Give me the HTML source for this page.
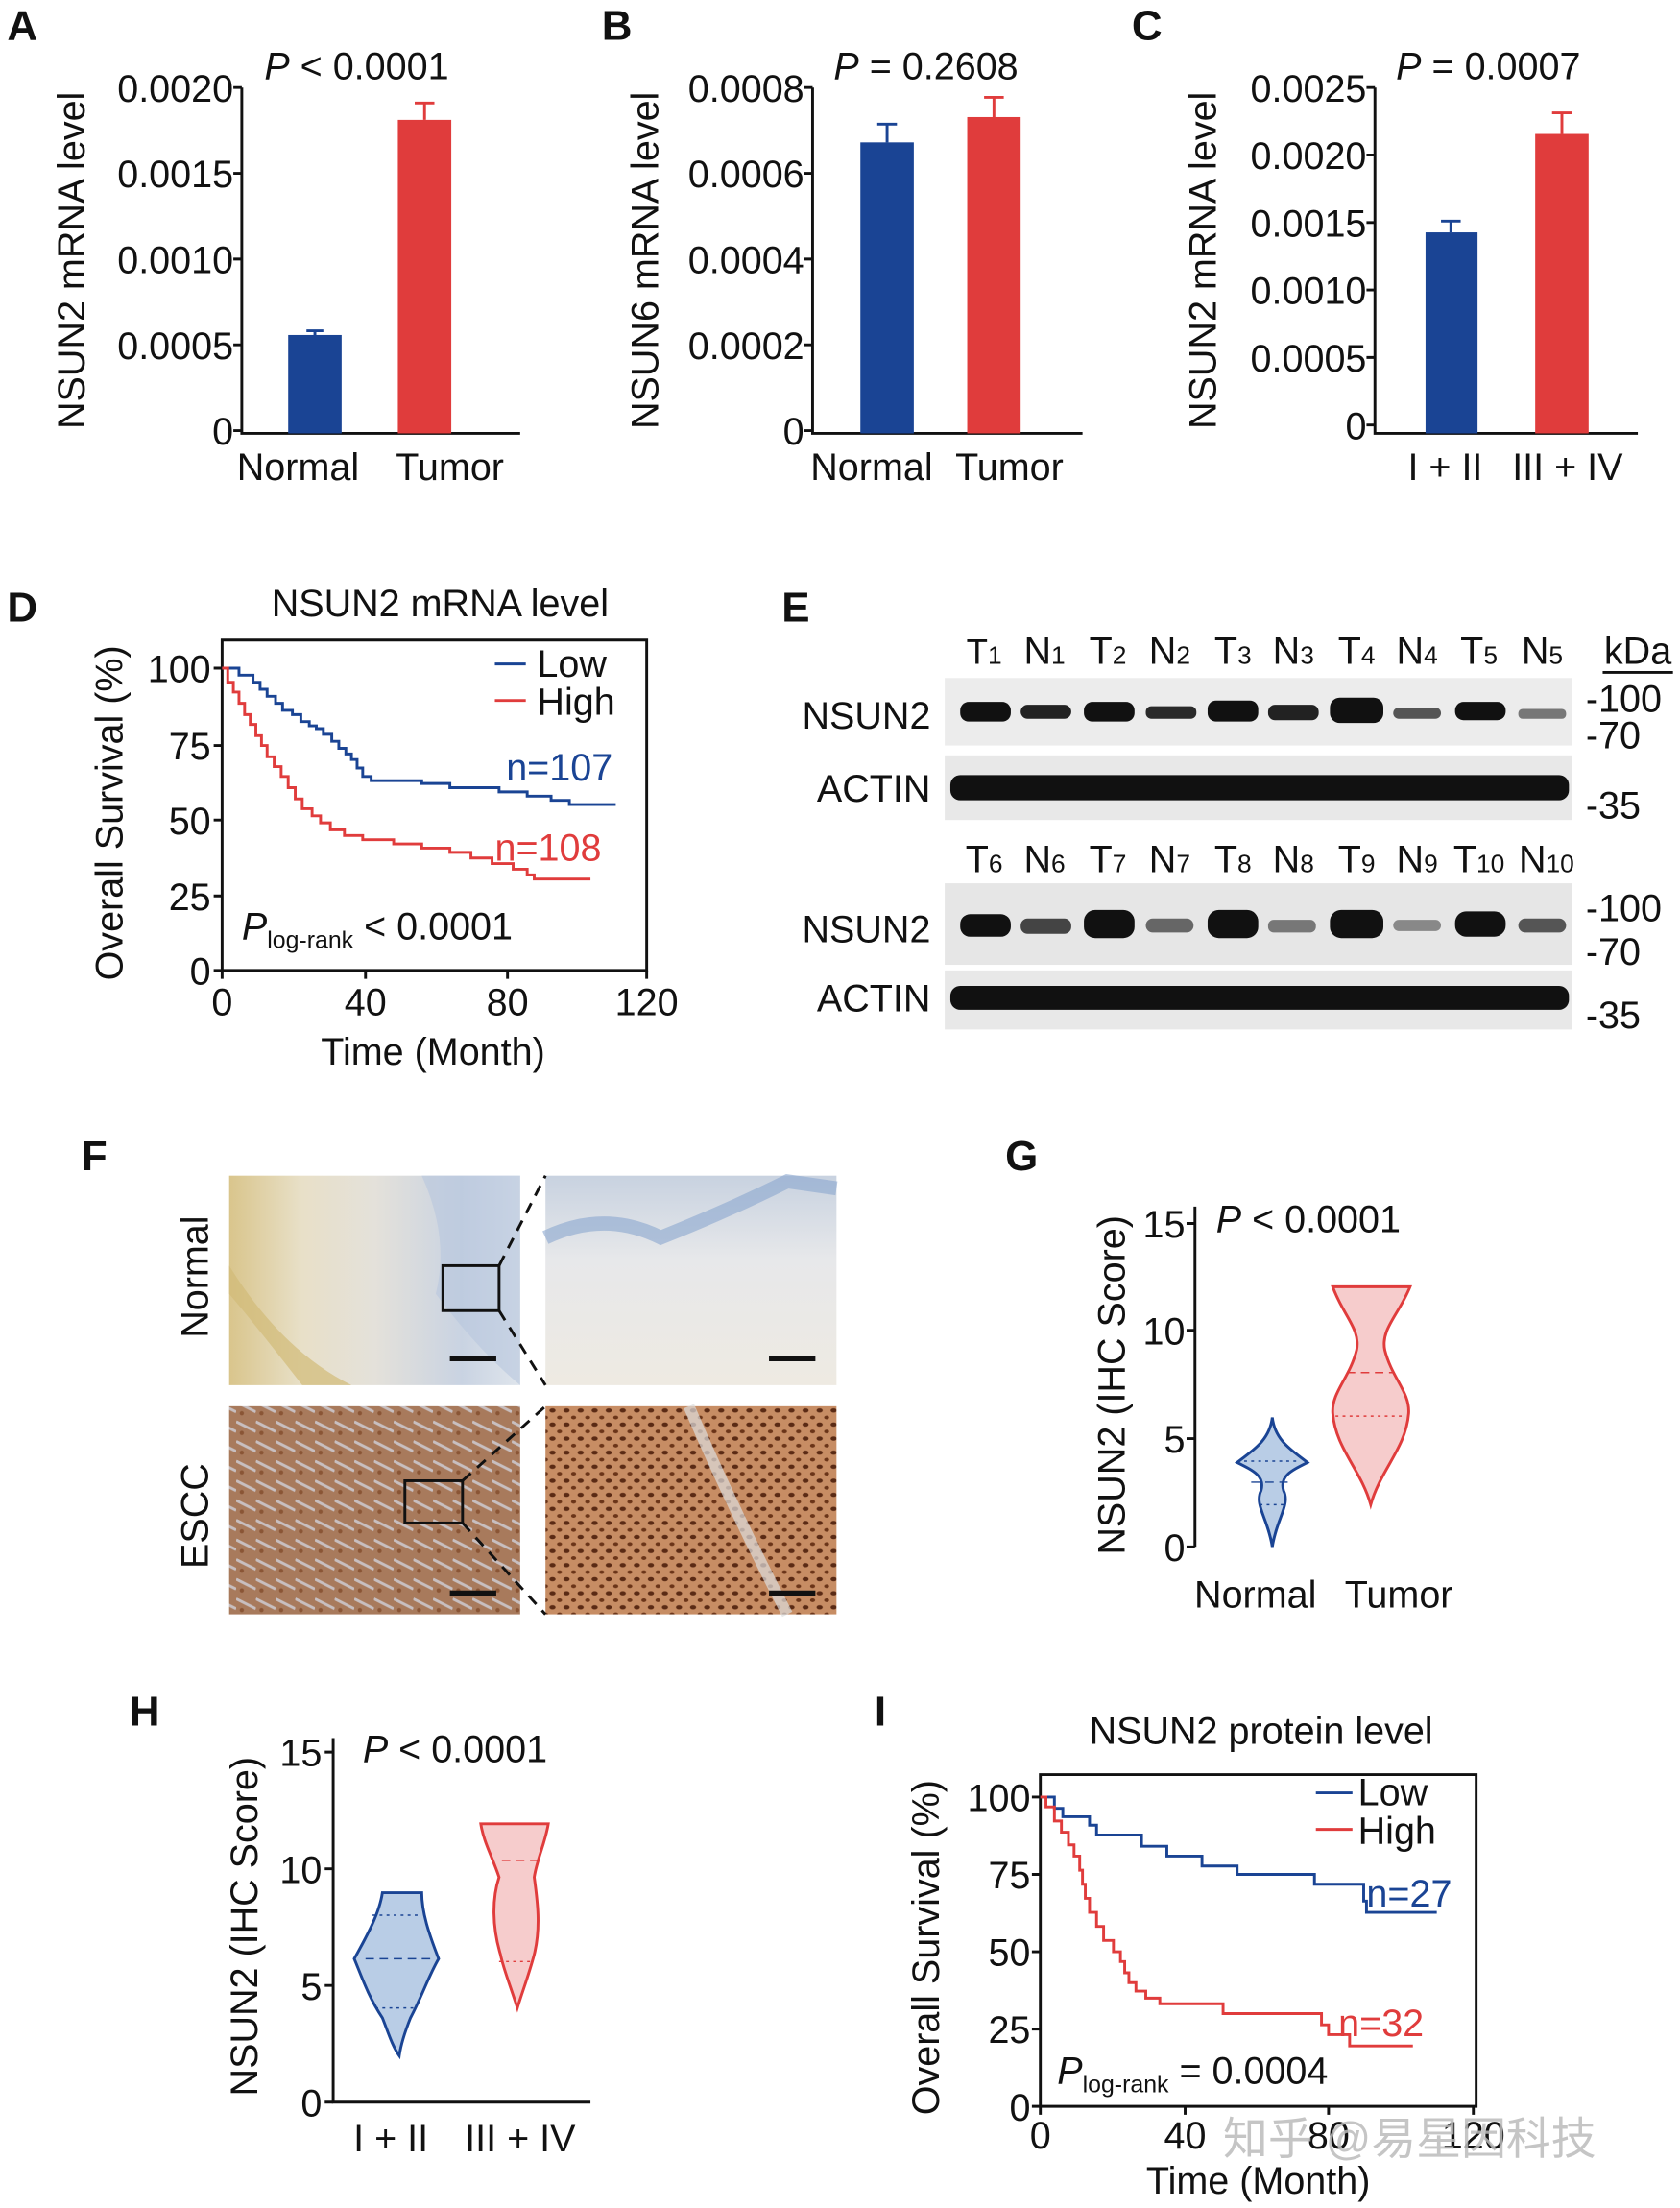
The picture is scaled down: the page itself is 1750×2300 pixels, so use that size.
<!DOCTYPE html>
<html><head><meta charset="utf-8"><style>
html,body{margin:0;padding:0;background:#fff}
svg{display:block}
text{font-family:"Liberation Sans",Arial,sans-serif;fill:#111}
.t{font-size:27px}
.lab{font-size:30px;font-weight:bold}
</style></head><body>
<svg width="1750" height="2300" viewBox="0 0 1195 1570" xmlns="http://www.w3.org/2000/svg">
<defs>
<linearGradient id="nrm" x1="0" y1="0" x2="1" y2="0">
<stop offset="0" stop-color="#d9c58c"/><stop offset="0.25" stop-color="#e8e0c8"/><stop offset="0.5" stop-color="#e4e1da"/><stop offset="0.8" stop-color="#c9d3e2"/><stop offset="1" stop-color="#dfe5ec"/></linearGradient>
<linearGradient id="nrm2" x1="0" y1="0" x2="0" y2="1">
<stop offset="0" stop-color="#c8d2e0"/><stop offset="0.4" stop-color="#e7e8ea"/><stop offset="1" stop-color="#eeeae2"/></linearGradient>
<pattern id="tum" width="14" height="14" patternUnits="userSpaceOnUse">
<rect width="14" height="14" fill="#a87a5c"/><path d="M0 3 L14 10" stroke="#c8bfc0" stroke-width="2"/><circle cx="4" cy="11" r="1.5" fill="#8a5535"/></pattern>
<pattern id="tum2" width="10" height="10" patternUnits="userSpaceOnUse">
<rect width="10" height="10" fill="#c78d64"/><ellipse cx="3" cy="3" rx="2.2" ry="1.5" fill="#5a2a14"/><ellipse cx="8" cy="8" rx="1.8" ry="1.3" fill="#6a3418"/></pattern>
</defs>

<!-- Panel A -->
<text x="5" y="28" class="lab">A</text>
<text x="188" y="56" class="t"><tspan font-style="italic">P</tspan> &lt; 0.0001</text>
<text transform="translate(60,185) rotate(-90)" text-anchor="middle" class="t">NSUN2 mRNA level</text>
<g class="t" text-anchor="end">
<text x="166" y="72">0.0020</text><text x="166" y="133">0.0015</text><text x="166" y="194">0.0010</text><text x="166" y="255">0.0005</text><text x="166" y="316">0</text></g>
<g stroke="#111" stroke-width="2" fill="none">
<path d="M172 62V308H370"/><path d="M166 62H172M166 123H172M166 184H172M166 245H172M166 306H172"/></g>
<rect x="205" y="238" width="38" height="70" fill="#1a4494"/>
<path d="M224 238V235M218 235H230" stroke="#1a4494" stroke-width="2"/>
<rect x="283" y="85" width="38" height="223" fill="#e03c3c"/>
<path d="M302 85V73M295 73H309" stroke="#e03c3c" stroke-width="2"/>
<text x="212" y="341" text-anchor="middle" class="t">Normal</text>
<text x="320" y="341" text-anchor="middle" class="t">Tumor</text>

<!-- Panel B -->
<text x="428" y="28" class="lab">B</text>
<text x="593" y="56" class="t"><tspan font-style="italic">P</tspan> = 0.2608</text>
<text transform="translate(468,185) rotate(-90)" text-anchor="middle" class="t">NSUN6 mRNA level</text>
<g class="t" text-anchor="end">
<text x="572" y="72">0.0008</text><text x="572" y="133">0.0006</text><text x="572" y="194">0.0004</text><text x="572" y="255">0.0002</text><text x="572" y="316">0</text></g>
<g stroke="#111" stroke-width="2" fill="none">
<path d="M578 62V308H770"/><path d="M572 62H578M572 123H578M572 184H578M572 245H578M572 306H578"/></g>
<rect x="612" y="101" width="38" height="207" fill="#1a4494"/>
<path d="M631 101V88M624 88H638" stroke="#1a4494" stroke-width="2"/>
<rect x="688" y="83" width="38" height="225" fill="#e03c3c"/>
<path d="M707 83V69M700 69H714" stroke="#e03c3c" stroke-width="2"/>
<text x="620" y="341" text-anchor="middle" class="t">Normal</text>
<text x="718" y="341" text-anchor="middle" class="t">Tumor</text>

<!-- Panel C -->
<text x="805" y="28" class="lab">C</text>
<text x="993" y="56" class="t"><tspan font-style="italic">P</tspan> = 0.0007</text>
<text transform="translate(865,185) rotate(-90)" text-anchor="middle" class="t">NSUN2 mRNA level</text>
<g class="t" text-anchor="end">
<text x="972" y="72">0.0025</text><text x="972" y="120">0.0020</text><text x="972" y="168">0.0015</text><text x="972" y="216">0.0010</text><text x="972" y="264">0.0005</text><text x="972" y="312">0</text></g>
<g stroke="#111" stroke-width="2" fill="none">
<path d="M978 62V308H1165"/><path d="M972 62H978M972 110H978M972 158H978M972 206H978M972 254H978M972 302H978"/></g>
<rect x="1014" y="165" width="37" height="143" fill="#1a4494"/>
<path d="M1032 165V157M1025 157H1039" stroke="#1a4494" stroke-width="2"/>
<rect x="1092" y="95" width="38" height="213" fill="#e03c3c"/>
<path d="M1111 95V80M1104 80H1118" stroke="#e03c3c" stroke-width="2"/>
<text x="1028" y="341" text-anchor="middle" class="t">I + II</text>
<text x="1115" y="341" text-anchor="middle" class="t">III + IV</text>

<!-- Panel D -->
<text x="5" y="442" class="lab">D</text>
<text x="313" y="438" text-anchor="middle" class="t">NSUN2 mRNA level</text>
<text transform="translate(87,578) rotate(-90)" text-anchor="middle" class="t">Overall Survival (%)</text>
<g class="t" text-anchor="end">
<text x="150" y="485">100</text><text x="150" y="540">75</text><text x="150" y="593">50</text><text x="150" y="647">25</text><text x="150" y="700">0</text></g>
<g class="t" text-anchor="middle">
<text x="158" y="722">0</text><text x="260" y="722">40</text><text x="361" y="722">80</text><text x="460" y="722">120</text></g>
<text x="308" y="757" text-anchor="middle" class="t">Time (Month)</text>
<g stroke="#111" stroke-width="2" fill="none">
<path d="M158 455H460V690H158Z"/>
<path d="M152 475H158M152 530H158M152 583H158M152 637H158M152 690H158M158 690V696M260 690V696M361 690V696M460 690V696"/></g>
<path d="M158 475H170V480H180V485H185V490H190V495H196V500H201V505H208V508H214V513H220V516H225V518H230V522H236V527H241V532H246V536H250V540H254V546H258V552H264V555H300V557H320V560H355V563H375V566H392V569H405V572H438" stroke="#1a4494" stroke-width="2" fill="none"/>
<path d="M158 475H162V485H166V492H170V500H174V508H178V515H182V523H186V530H190V538H195V545H200V552H205V560H210V568H215V575H222V580H228V585H235V590H245V594H258V597H280V600H300V603H320V606H335V610H350V614H365V618H375V622H380V625H420" stroke="#e03c3c" stroke-width="2" fill="none"/>
<path d="M352 472H374" stroke="#1a4494" stroke-width="2"/><text x="382" y="481" class="t">Low</text>
<path d="M352 498H374" stroke="#e03c3c" stroke-width="2"/><text x="382" y="508" class="t">High</text>
<text x="360" y="555" class="t" style="fill:#1a4494">n=107</text>
<text x="352" y="612" class="t" style="fill:#e03c3c">n=108</text>
<text x="172" y="668" class="t"><tspan font-style="italic">P</tspan><tspan font-size="17" dy="6">log-rank</tspan><tspan dy="-6"> &lt; 0.0001</tspan></text>

<!-- Panel E -->
<text x="556" y="442" class="lab">E</text>
<g class="t" text-anchor="middle" font-size="25">
<text x="700" y="472" font-size="25">T<tspan font-size="18">1</tspan></text><text x="743" y="472">N<tspan font-size="18">1</tspan></text>
<text x="788" y="472">T<tspan font-size="18">2</tspan></text><text x="832" y="472">N<tspan font-size="18">2</tspan></text>
<text x="877" y="472">T<tspan font-size="18">3</tspan></text><text x="920" y="472">N<tspan font-size="18">3</tspan></text>
<text x="965" y="472">T<tspan font-size="18">4</tspan></text><text x="1008" y="472">N<tspan font-size="18">4</tspan></text>
<text x="1052" y="472">T<tspan font-size="18">5</tspan></text><text x="1097" y="472">N<tspan font-size="18">5</tspan></text>
<text x="700" y="620">T<tspan font-size="18">6</tspan></text><text x="743" y="620">N<tspan font-size="18">6</tspan></text>
<text x="788" y="620">T<tspan font-size="18">7</tspan></text><text x="832" y="620">N<tspan font-size="18">7</tspan></text>
<text x="877" y="620">T<tspan font-size="18">8</tspan></text><text x="920" y="620">N<tspan font-size="18">8</tspan></text>
<text x="965" y="620">T<tspan font-size="18">9</tspan></text><text x="1008" y="620">N<tspan font-size="18">9</tspan></text>
<text x="1052" y="620">T<tspan font-size="18">10</tspan></text><text x="1100" y="620">N<tspan font-size="18">10</tspan></text>
</g>
<text x="1165" y="472" text-anchor="middle" class="t" font-size="25">kDa</text>
<path d="M1140 478H1190" stroke="#111" stroke-width="2"/>
<g class="t" text-anchor="end">
<text x="662" y="518">NSUN2</text><text x="662" y="570">ACTIN</text>
<text x="662" y="670">NSUN2</text><text x="662" y="719">ACTIN</text></g>
<rect x="672" y="482" width="446" height="48" fill="#ececec"/>
<rect x="672" y="537" width="446" height="46" fill="#e8e8e8"/>
<rect x="672" y="628" width="446" height="58" fill="#e6e6e6"/>
<rect x="672" y="690" width="446" height="42" fill="#e8e8e8"/>
<g fill="#111">
<rect x="683" y="499" width="36" height="14" rx="6"/><rect x="726" y="501" width="36" height="10" rx="5" fill="#222"/>
<rect x="771" y="499" width="36" height="14" rx="6"/><rect x="815" y="502" width="36" height="9" rx="4" fill="#2a2a2a"/>
<rect x="859" y="498" width="36" height="15" rx="6"/><rect x="902" y="501" width="36" height="11" rx="5" fill="#222"/>
<rect x="946" y="496" width="38" height="18" rx="7"/><rect x="991" y="503" width="34" height="8" rx="4" fill="#555"/>
<rect x="1035" y="499" width="36" height="13" rx="6"/><rect x="1080" y="504" width="34" height="7" rx="3" fill="#777"/>
<rect x="676" y="551" width="440" height="18" rx="7"/>
<rect x="683" y="650" width="36" height="16" rx="7"/><rect x="726" y="653" width="36" height="11" rx="5" fill="#444"/>
<rect x="771" y="647" width="36" height="20" rx="8"/><rect x="815" y="653" width="34" height="10" rx="5" fill="#666"/>
<rect x="859" y="647" width="36" height="20" rx="8"/><rect x="902" y="654" width="34" height="9" rx="4" fill="#777"/>
<rect x="946" y="647" width="38" height="20" rx="8"/><rect x="991" y="654" width="34" height="8" rx="4" fill="#888"/>
<rect x="1035" y="648" width="36" height="18" rx="8"/><rect x="1080" y="653" width="34" height="10" rx="5" fill="#555"/>
<rect x="676" y="701" width="440" height="17" rx="7"/>
</g>
<g class="t" font-size="25">
<text x="1128" y="506">-100</text><text x="1128" y="532">-70</text><text x="1128" y="582">-35</text>
<text x="1128" y="655">-100</text><text x="1128" y="686">-70</text><text x="1128" y="731">-35</text></g>

<!-- Panel F -->
<text x="58" y="832" class="lab">F</text>
<text transform="translate(148,908) rotate(-90)" text-anchor="middle" class="t">Normal</text>
<text transform="translate(148,1078) rotate(-90)" text-anchor="middle" class="t">ESCC</text>
<rect x="163" y="836" width="207" height="149" fill="url(#nrm)"/>
<path d="M163 900 Q200 960 250 985 L215 985 Q180 940 163 920Z" fill="#d2bb78" opacity="0.7"/>
<path d="M300 836 Q320 880 310 920 Q340 960 370 985 L370 836Z" fill="#b7c7de" opacity="0.6"/>
<rect x="388" y="836" width="207" height="149" fill="url(#nrm2)"/>
<path d="M388 880 Q430 860 470 880 Q520 860 560 840 L595 845" stroke="#8aa7cf" stroke-width="10" fill="none" opacity="0.6"/>
<rect x="163" y="1000" width="207" height="148" fill="url(#tum)"/>
<rect x="388" y="1000" width="207" height="148" fill="url(#tum2)"/>
<path d="M490 1000 Q520 1070 560 1148" stroke="#ddd" stroke-width="8" fill="none" opacity="0.7"/>
<g stroke="#111" fill="none" stroke-width="2">
<rect x="315" y="900" width="40" height="32"/><rect x="288" y="1053" width="41" height="30"/></g>
<g stroke="#111" stroke-width="2" stroke-dasharray="8,6">
<path d="M355 900L388 836M355 932L388 985M329 1053L388 1000M329 1083L388 1148"/></g>
<g stroke="#111" stroke-width="4">
<path d="M320 966H353M547 966H580M320 1133H353M547 1133H580"/></g>

<!-- Panel G -->
<text x="715" y="832" class="lab">G</text>
<text x="865" y="876" class="t"><tspan font-style="italic">P</tspan> &lt; 0.0001</text>
<text transform="translate(800,985) rotate(-90)" text-anchor="middle" class="t">NSUN2 (IHC Score)</text>
<g class="t" text-anchor="end">
<text x="843" y="880">15</text><text x="843" y="956">10</text><text x="843" y="1033">5</text><text x="843" y="1110">0</text></g>
<g stroke="#111" stroke-width="2" fill="none">
<path d="M850 858V1100"/><path d="M844 870H850M844 946H850M844 1023H850M844 1100H850"/></g>
<path d="M905 1008 C903 1025 890 1032 880 1040 C892 1046 900 1050 897 1060 C892 1070 902 1080 905 1100 C908 1080 918 1070 913 1060 C910 1050 918 1046 930 1040 C920 1032 907 1025 905 1008Z" fill="#b9cde6" stroke="#1a4494" stroke-width="2"/>
<path d="M885 1039H925" stroke="#1a4494" stroke-dasharray="2,3"/><path d="M890 1054H920" stroke="#1a4494" stroke-dasharray="6,4"/><path d="M896 1070H914" stroke="#1a4494" stroke-dasharray="2,3"/>
<path d="M948 915H1003 C995 935 982 945 985 960 C990 980 1003 990 1002 1005 C1000 1030 982 1045 975 1070 C968 1045 950 1030 948 1005 C947 990 960 980 965 960 C968 945 955 935 948 915Z" fill="#f6cccc" stroke="#e03c3c" stroke-width="2"/>
<path d="M958 976H992" stroke="#e03c3c" stroke-dasharray="6,4"/><path d="M950 1007H1000" stroke="#e03c3c" stroke-dasharray="2,3"/>
<text x="893" y="1143" text-anchor="middle" class="t">Normal</text>
<text x="995" y="1143" text-anchor="middle" class="t">Tumor</text>

<!-- Panel H -->
<text x="92" y="1227" class="lab">H</text>
<text x="258" y="1253" class="t"><tspan font-style="italic">P</tspan> &lt; 0.0001</text>
<text transform="translate(183,1370) rotate(-90)" text-anchor="middle" class="t">NSUN2 (IHC Score)</text>
<g class="t" text-anchor="end">
<text x="229" y="1256">15</text><text x="229" y="1339">10</text><text x="229" y="1422">5</text><text x="229" y="1505">0</text></g>
<g stroke="#111" stroke-width="2" fill="none">
<path d="M237 1236V1495H420"/><path d="M231 1246H237M231 1329H237M231 1412H237M231 1495H237"/></g>
<path d="M272 1346H300 C300 1360 305 1375 312 1393 C305 1405 300 1420 292 1435 C288 1445 285 1455 284 1462 C279 1455 276 1445 272 1435 C262 1420 257 1405 252 1393 C262 1375 270 1360 272 1346Z" fill="#b9cde6" stroke="#1a4494" stroke-width="2"/>
<path d="M260 1393H307" stroke="#1a4494" stroke-dasharray="6,4"/><path d="M265 1362H300" stroke="#1a4494" stroke-dasharray="2,3"/><path d="M267 1428H295" stroke="#1a4494" stroke-dasharray="2,3"/>
<path d="M342 1297H390 C388 1310 382 1322 380 1335 C382 1350 385 1370 380 1390 C376 1405 372 1415 368 1428 C364 1415 358 1400 356 1390 C350 1370 350 1350 355 1335 C350 1320 344 1310 342 1297Z" fill="#f6cccc" stroke="#e03c3c" stroke-width="2"/>
<path d="M345 1297H388" stroke="#e03c3c" stroke-dasharray="2,3"/><path d="M357 1323H383" stroke="#e03c3c" stroke-dasharray="6,4"/><path d="M355 1395H378" stroke="#e03c3c" stroke-dasharray="2,3"/>
<text x="278" y="1530" text-anchor="middle" class="t">I + II</text>
<text x="370" y="1530" text-anchor="middle" class="t">III + IV</text>

<!-- Panel I -->
<text x="622" y="1227" class="lab">I</text>
<text x="897" y="1240" text-anchor="middle" class="t">NSUN2 protein level</text>
<text transform="translate(668,1385) rotate(-90)" text-anchor="middle" class="t">Overall Survival (%)</text>
<g class="t" text-anchor="end">
<text x="733" y="1288">100</text><text x="733" y="1343">75</text><text x="733" y="1398">50</text><text x="733" y="1453">25</text><text x="733" y="1508">0</text></g>
<g class="t" text-anchor="middle">
<text x="740" y="1528">0</text><text x="843" y="1528">40</text><text x="945" y="1528">80</text><text x="1048" y="1528">120</text></g>
<text x="895" y="1560" text-anchor="middle" class="t">Time (Month)</text>
<g stroke="#111" stroke-width="2" fill="none">
<path d="M740 1262H1050V1498H740Z"/>
<path d="M734 1278H740M734 1333H740M734 1388H740M734 1443H740M734 1498H740M740 1498V1504M843 1498V1504M945 1498V1504M1048 1498V1504"/></g>
<path d="M740 1278H750V1286H756V1292H775V1298H780V1305H812V1313H830V1320H855V1327H880V1333H935V1340H970V1352H972V1360H1022" stroke="#1a4494" stroke-width="2" fill="none"/>
<path d="M740 1278H744V1285H750V1295H755V1303H760V1312H764V1320H768V1330H770V1340H772V1350H775V1360H780V1370H785V1380H792V1388H797V1395H800V1403H803V1410H808V1416H815V1421H825V1425H870V1432H940V1440H945V1447H960V1455H1005" stroke="#e03c3c" stroke-width="2" fill="none"/>
<path d="M936 1275H962" stroke="#1a4494" stroke-width="2"/><text x="966" y="1284" class="t">Low</text>
<path d="M936 1301H962" stroke="#e03c3c" stroke-width="2"/><text x="966" y="1311" class="t">High</text>
<text x="972" y="1356" class="t" style="fill:#1a4494">n=27</text>
<text x="952" y="1448" class="t" style="fill:#e03c3c">n=32</text>
<text x="752" y="1482" class="t"><tspan font-style="italic">P</tspan><tspan font-size="17" dy="6">log-rank</tspan><tspan dy="-6"> = 0.0004</tspan></text>
<text x="870" y="1532" font-size="32" style="fill:#bbb;opacity:0.85;font-family:'Liberation Sans','Noto Sans CJK SC',sans-serif">知乎 @易星因科技</text>
</svg>
</body></html>
